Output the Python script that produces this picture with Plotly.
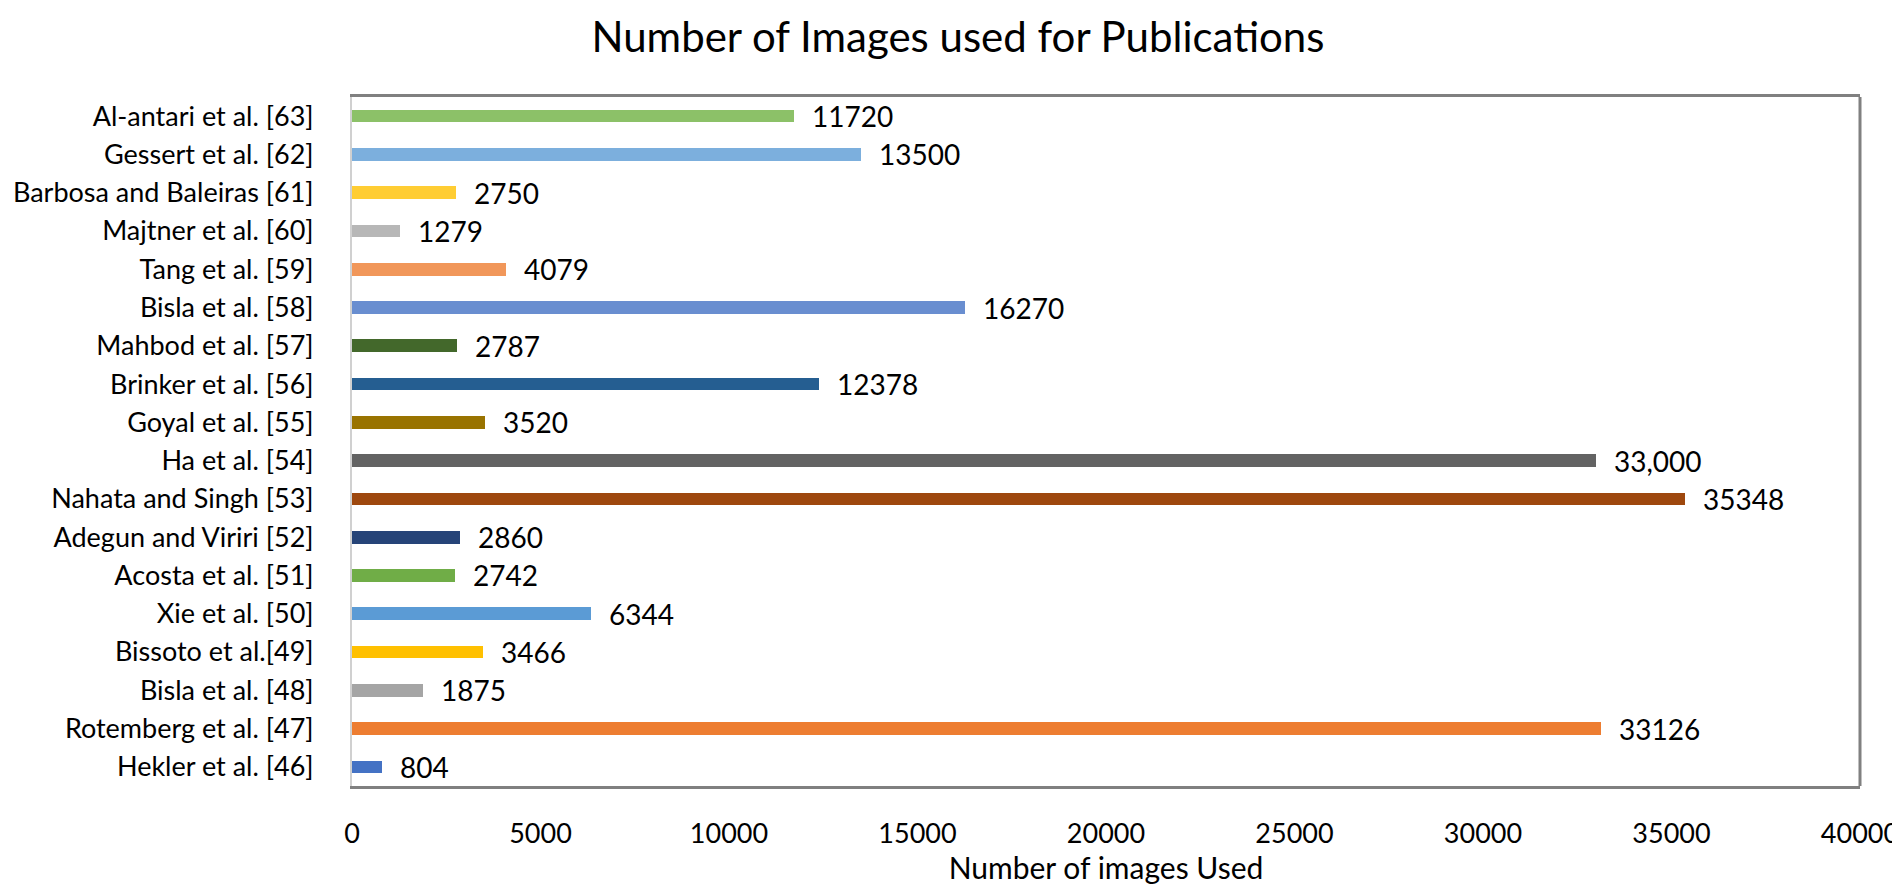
import plotly.graph_objects as go

# Data (bottom -> top)
authors = [
    "Hekler et al. [46]", "Rotemberg et al. [47]", "Bisla et al. [48]", "Bissoto et al.[49]",
    "Xie et al. [50]", "Acosta et al. [51]", "Adegun and Viriri [52]", "Nahata and Singh [53]",
    "Ha et al. [54]", "Goyal et al. [55]", "Brinker et al. [56]", "Mahbod et al. [57]",
    "Bisla et al. [58]", "Tang et al. [59]", "Majtner et al. [60]", "Barbosa and Baleiras [61]",
    "Gessert et al. [62]", "Al-antari et al. [63]",
]
num_images = [804, 33126, 1875, 3466, 6344, 2742, 2860, 35348, 33000, 3520, 12378, 2787,
              16270, 4079, 1279, 2750, 13500, 11720]
value_labels = ["804", "33126", "1875", "3466", "6344", "2742", "2860", "35348", "33,000",
                "3520", "12378", "2787", "16270", "4079", "1279", "2750", "13500", "11720"]
bar_colors = ["#4472C4", "#ED7D31", "#A5A5A5", "#FFC000", "#5B9BD5", "#70AD47",
              "#264478", "#9E480E", "#636363", "#997300", "#255E91", "#43682B",
              "#698ED0", "#F1975A", "#B7B7B7", "#FFCD33", "#7CAFDD", "#8CC168"]
x_ticks = [0, 5000, 10000, 15000, 20000, 25000, 30000, 35000, 40000]

FONT = "Lato"

fig = go.Figure()
fig.add_trace(go.Bar(
    x=num_images, y=authors, orientation="h",
    marker=dict(color=bar_colors, line=dict(width=0)),
    width=0.33, hoverinfo="x+y", showlegend=False,
))

for v, a, t in zip(num_images, authors, value_labels):
    fig.add_annotation(x=v, y=a, text=t, showarrow=False, xanchor="left",
                       yanchor="middle", xshift=16,
                       font=dict(family=FONT, size=28, color="#000000"))

# right border of plot area
fig.add_shape(type="line", xref="x domain", yref="y domain", x0=1, x1=1, y0=0, y1=1,
              line=dict(color="#808080", width=3), layer="above")

fig.update_layout(
    width=1900, height=888,
    margin=dict(l=344, r=48, t=89, b=110, autoexpand=False),
    paper_bgcolor="white", plot_bgcolor="white",
    title=dict(text="Number of Images used for Publications",
               font=dict(family=FONT, size=42, color="#000000"),
               x=0.5, xanchor="center", y=1 - 15 / 888, yanchor="top", pad=dict(t=0)),
    bargap=0,
    xaxis=dict(range=[0, 40000], tickvals=x_ticks, ticktext=[str(t) for t in x_ticks],
               showgrid=False, zeroline=False, automargin=True,
               showline=True, linecolor="#808080", linewidth=3, mirror=True,
               ticks="", ticklabelstandoff=22,
               tickfont=dict(family=FONT, size=27, color="#000000"),
               title=dict(text="Number of images Used", standoff=5,
                          font=dict(family=FONT, size=30, color="#000000"))),
    yaxis=dict(showgrid=False, zeroline=False, showline=True, linecolor="#d0d0d0",
               linewidth=2, ticks="", ticklabelstandoff=31, automargin=True,
               tickfont=dict(family=FONT, size=27, color="#000000"),
               range=[-0.5, len(authors) - 0.5]),
    font=dict(family=FONT),
)

fig.write_html("out.html")
